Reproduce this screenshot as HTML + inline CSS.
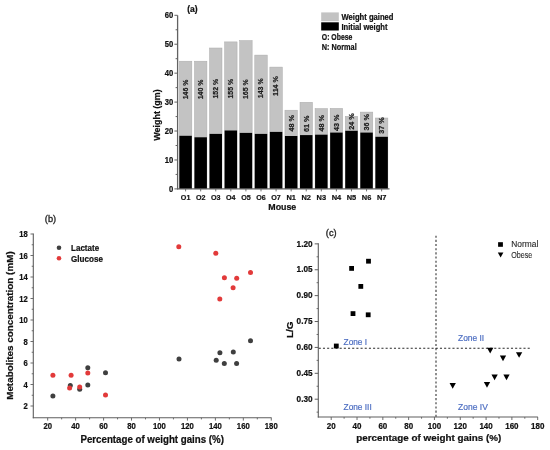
<!DOCTYPE html>
<html><head><meta charset="utf-8">
<style>
html,body{margin:0;padding:0;background:#fff;width:550px;height:450px;overflow:hidden;}
svg{display:block;font-family:"Liberation Sans", sans-serif;filter:blur(0.25px);}
</style></head><body>
<svg width="550" height="450" viewBox="0 0 550 450">
<rect width="550" height="450" fill="#fff"/>
<rect x="179.38" y="61.2" width="12.45" height="127.70" fill="#c3c3c3" stroke="#aaaaaa" stroke-width="0.5"/>
<rect x="179.38" y="135.8" width="12.45" height="53.10" fill="#000"/>
<text x="188.0" y="89.4" font-size="7.5" font-weight="bold" text-anchor="middle" fill="#1a1a1a" transform="rotate(-90 188.0 89.4)" textLength="19.8" lengthAdjust="spacingAndGlyphs" stroke="#1a1a1a" stroke-width="0.22">146 %</text>
<line x1="185.6" y1="188.9" x2="185.6" y2="191.4" stroke="#626262" stroke-width="0.9"/>
<text x="185.6" y="199.6" font-size="8.0" font-weight="bold" text-anchor="middle" fill="#111" textLength="9.5" lengthAdjust="spacingAndGlyphs" stroke="#111" stroke-width="0.22">O1</text>
<rect x="194.46" y="61.2" width="12.45" height="127.70" fill="#c3c3c3" stroke="#aaaaaa" stroke-width="0.5"/>
<rect x="194.46" y="137.3" width="12.45" height="51.60" fill="#000"/>
<text x="203.08" y="89.4" font-size="7.5" font-weight="bold" text-anchor="middle" fill="#1a1a1a" transform="rotate(-90 203.08 89.4)" textLength="19.8" lengthAdjust="spacingAndGlyphs" stroke="#1a1a1a" stroke-width="0.22">140 %</text>
<line x1="200.68" y1="188.9" x2="200.68" y2="191.4" stroke="#626262" stroke-width="0.9"/>
<text x="200.68" y="199.6" font-size="8.0" font-weight="bold" text-anchor="middle" fill="#111" textLength="9.5" lengthAdjust="spacingAndGlyphs" stroke="#111" stroke-width="0.22">O2</text>
<rect x="209.53" y="48.0" width="12.45" height="140.90" fill="#c3c3c3" stroke="#aaaaaa" stroke-width="0.5"/>
<rect x="209.53" y="133.9" width="12.45" height="55.00" fill="#000"/>
<text x="218.16" y="88.7" font-size="7.5" font-weight="bold" text-anchor="middle" fill="#1a1a1a" transform="rotate(-90 218.16 88.7)" textLength="19.8" lengthAdjust="spacingAndGlyphs" stroke="#1a1a1a" stroke-width="0.22">152 %</text>
<line x1="215.76" y1="188.9" x2="215.76" y2="191.4" stroke="#626262" stroke-width="0.9"/>
<text x="215.76" y="199.6" font-size="8.0" font-weight="bold" text-anchor="middle" fill="#111" textLength="9.5" lengthAdjust="spacingAndGlyphs" stroke="#111" stroke-width="0.22">O3</text>
<rect x="224.62" y="41.9" width="12.45" height="147.00" fill="#c3c3c3" stroke="#aaaaaa" stroke-width="0.5"/>
<rect x="224.62" y="130.5" width="12.45" height="58.40" fill="#000"/>
<text x="233.24" y="88.7" font-size="7.5" font-weight="bold" text-anchor="middle" fill="#1a1a1a" transform="rotate(-90 233.24 88.7)" textLength="19.8" lengthAdjust="spacingAndGlyphs" stroke="#1a1a1a" stroke-width="0.22">155 %</text>
<line x1="230.84" y1="188.9" x2="230.84" y2="191.4" stroke="#626262" stroke-width="0.9"/>
<text x="230.84" y="199.6" font-size="8.0" font-weight="bold" text-anchor="middle" fill="#111" textLength="9.5" lengthAdjust="spacingAndGlyphs" stroke="#111" stroke-width="0.22">O4</text>
<rect x="239.69" y="40.6" width="12.45" height="148.30" fill="#c3c3c3" stroke="#aaaaaa" stroke-width="0.5"/>
<rect x="239.69" y="132.9" width="12.45" height="56.00" fill="#000"/>
<text x="248.32" y="89.2" font-size="7.5" font-weight="bold" text-anchor="middle" fill="#1a1a1a" transform="rotate(-90 248.32 89.2)" textLength="19.8" lengthAdjust="spacingAndGlyphs" stroke="#1a1a1a" stroke-width="0.22">165 %</text>
<line x1="245.92" y1="188.9" x2="245.92" y2="191.4" stroke="#626262" stroke-width="0.9"/>
<text x="245.92" y="199.6" font-size="8.0" font-weight="bold" text-anchor="middle" fill="#111" textLength="9.5" lengthAdjust="spacingAndGlyphs" stroke="#111" stroke-width="0.22">O5</text>
<rect x="254.78" y="55.1" width="12.45" height="133.80" fill="#c3c3c3" stroke="#aaaaaa" stroke-width="0.5"/>
<rect x="254.78" y="133.9" width="12.45" height="55.00" fill="#000"/>
<text x="263.4" y="88.3" font-size="7.5" font-weight="bold" text-anchor="middle" fill="#1a1a1a" transform="rotate(-90 263.4 88.3)" textLength="19.8" lengthAdjust="spacingAndGlyphs" stroke="#1a1a1a" stroke-width="0.22">143 %</text>
<line x1="261.0" y1="188.9" x2="261.0" y2="191.4" stroke="#626262" stroke-width="0.9"/>
<text x="261.0" y="199.6" font-size="8.0" font-weight="bold" text-anchor="middle" fill="#111" textLength="9.5" lengthAdjust="spacingAndGlyphs" stroke="#111" stroke-width="0.22">O6</text>
<rect x="269.85" y="67.1" width="12.45" height="121.80" fill="#c3c3c3" stroke="#aaaaaa" stroke-width="0.5"/>
<rect x="269.85" y="131.9" width="12.45" height="57.00" fill="#000"/>
<text x="278.48" y="86.0" font-size="7.5" font-weight="bold" text-anchor="middle" fill="#1a1a1a" transform="rotate(-90 278.48 86.0)" textLength="19.8" lengthAdjust="spacingAndGlyphs" stroke="#1a1a1a" stroke-width="0.22">114 %</text>
<line x1="276.08" y1="188.9" x2="276.08" y2="191.4" stroke="#626262" stroke-width="0.9"/>
<text x="276.08" y="199.6" font-size="8.0" font-weight="bold" text-anchor="middle" fill="#111" textLength="9.5" lengthAdjust="spacingAndGlyphs" stroke="#111" stroke-width="0.22">O7</text>
<rect x="284.93" y="110.2" width="12.45" height="78.70" fill="#c3c3c3" stroke="#aaaaaa" stroke-width="0.5"/>
<rect x="284.93" y="136.0" width="12.45" height="52.90" fill="#000"/>
<text x="293.56" y="123.2" font-size="7.5" font-weight="bold" text-anchor="middle" fill="#1a1a1a" transform="rotate(-90 293.56 123.2)" textLength="16.4" lengthAdjust="spacingAndGlyphs" stroke="#1a1a1a" stroke-width="0.22">48 %</text>
<line x1="291.16" y1="188.9" x2="291.16" y2="191.4" stroke="#626262" stroke-width="0.9"/>
<text x="291.16" y="199.6" font-size="8.0" font-weight="bold" text-anchor="middle" fill="#111" textLength="9.5" lengthAdjust="spacingAndGlyphs" stroke="#111" stroke-width="0.22">N1</text>
<rect x="300.01" y="102.3" width="12.45" height="86.60" fill="#c3c3c3" stroke="#aaaaaa" stroke-width="0.5"/>
<rect x="300.01" y="135.1" width="12.45" height="53.80" fill="#000"/>
<text x="308.64" y="123.8" font-size="7.5" font-weight="bold" text-anchor="middle" fill="#1a1a1a" transform="rotate(-90 308.64 123.8)" textLength="16.4" lengthAdjust="spacingAndGlyphs" stroke="#1a1a1a" stroke-width="0.22">61 %</text>
<line x1="306.24" y1="188.9" x2="306.24" y2="191.4" stroke="#626262" stroke-width="0.9"/>
<text x="306.24" y="199.6" font-size="8.0" font-weight="bold" text-anchor="middle" fill="#111" textLength="9.5" lengthAdjust="spacingAndGlyphs" stroke="#111" stroke-width="0.22">N2</text>
<rect x="315.09" y="108.6" width="12.45" height="80.30" fill="#c3c3c3" stroke="#aaaaaa" stroke-width="0.5"/>
<rect x="315.09" y="134.7" width="12.45" height="54.20" fill="#000"/>
<text x="323.72" y="123.2" font-size="7.5" font-weight="bold" text-anchor="middle" fill="#1a1a1a" transform="rotate(-90 323.72 123.2)" textLength="16.4" lengthAdjust="spacingAndGlyphs" stroke="#1a1a1a" stroke-width="0.22">48 %</text>
<line x1="321.32" y1="188.9" x2="321.32" y2="191.4" stroke="#626262" stroke-width="0.9"/>
<text x="321.32" y="199.6" font-size="8.0" font-weight="bold" text-anchor="middle" fill="#111" textLength="9.5" lengthAdjust="spacingAndGlyphs" stroke="#111" stroke-width="0.22">N3</text>
<rect x="330.17" y="108.4" width="12.45" height="80.50" fill="#c3c3c3" stroke="#aaaaaa" stroke-width="0.5"/>
<rect x="330.17" y="132.6" width="12.45" height="56.30" fill="#000"/>
<text x="338.8" y="122.9" font-size="7.5" font-weight="bold" text-anchor="middle" fill="#1a1a1a" transform="rotate(-90 338.8 122.9)" textLength="16.4" lengthAdjust="spacingAndGlyphs" stroke="#1a1a1a" stroke-width="0.22">43 %</text>
<line x1="336.4" y1="188.9" x2="336.4" y2="191.4" stroke="#626262" stroke-width="0.9"/>
<text x="336.4" y="199.6" font-size="8.0" font-weight="bold" text-anchor="middle" fill="#111" textLength="9.5" lengthAdjust="spacingAndGlyphs" stroke="#111" stroke-width="0.22">N4</text>
<rect x="345.25" y="116.3" width="12.45" height="72.60" fill="#c3c3c3" stroke="#aaaaaa" stroke-width="0.5"/>
<rect x="345.25" y="130.8" width="12.45" height="58.10" fill="#000"/>
<text x="353.88" y="121.5" font-size="7.5" font-weight="bold" text-anchor="middle" fill="#1a1a1a" transform="rotate(-90 353.88 121.5)" textLength="16.4" lengthAdjust="spacingAndGlyphs" stroke="#1a1a1a" stroke-width="0.22">24 %</text>
<line x1="351.48" y1="188.9" x2="351.48" y2="191.4" stroke="#626262" stroke-width="0.9"/>
<text x="351.48" y="199.6" font-size="8.0" font-weight="bold" text-anchor="middle" fill="#111" textLength="9.5" lengthAdjust="spacingAndGlyphs" stroke="#111" stroke-width="0.22">N5</text>
<rect x="360.33" y="112.1" width="12.45" height="76.80" fill="#c3c3c3" stroke="#aaaaaa" stroke-width="0.5"/>
<rect x="360.33" y="132.6" width="12.45" height="56.30" fill="#000"/>
<text x="368.96" y="122.4" font-size="7.5" font-weight="bold" text-anchor="middle" fill="#1a1a1a" transform="rotate(-90 368.96 122.4)" textLength="16.4" lengthAdjust="spacingAndGlyphs" stroke="#1a1a1a" stroke-width="0.22">36 %</text>
<line x1="366.56" y1="188.9" x2="366.56" y2="191.4" stroke="#626262" stroke-width="0.9"/>
<text x="366.56" y="199.6" font-size="8.0" font-weight="bold" text-anchor="middle" fill="#111" textLength="9.5" lengthAdjust="spacingAndGlyphs" stroke="#111" stroke-width="0.22">N6</text>
<rect x="375.41" y="118.0" width="12.45" height="70.90" fill="#c3c3c3" stroke="#aaaaaa" stroke-width="0.5"/>
<rect x="375.41" y="136.8" width="12.45" height="52.10" fill="#000"/>
<text x="384.04" y="125.5" font-size="7.5" font-weight="bold" text-anchor="middle" fill="#1a1a1a" transform="rotate(-90 384.04 125.5)" textLength="16.4" lengthAdjust="spacingAndGlyphs" stroke="#1a1a1a" stroke-width="0.22">37 %</text>
<line x1="381.64" y1="188.9" x2="381.64" y2="191.4" stroke="#626262" stroke-width="0.9"/>
<text x="381.64" y="199.6" font-size="8.0" font-weight="bold" text-anchor="middle" fill="#111" textLength="9.5" lengthAdjust="spacingAndGlyphs" stroke="#111" stroke-width="0.22">N7</text>
<line x1="177.6" y1="15.3" x2="177.6" y2="189.4" stroke="#626262" stroke-width="1.3"/>
<line x1="177.0" y1="188.9" x2="389.5" y2="188.9" stroke="#626262" stroke-width="1.3"/>
<line x1="174.4" y1="188.9" x2="177.6" y2="188.9" stroke="#626262" stroke-width="1"/>
<text x="173.3" y="191.5" font-size="8.2" font-weight="bold" text-anchor="end" fill="#111" textLength="4.25" lengthAdjust="spacingAndGlyphs" stroke="#111" stroke-width="0.22">0</text>
<line x1="174.4" y1="159.97" x2="177.6" y2="159.97" stroke="#626262" stroke-width="1"/>
<text x="173.3" y="162.57" font-size="8.2" font-weight="bold" text-anchor="end" fill="#111" textLength="8.5" lengthAdjust="spacingAndGlyphs" stroke="#111" stroke-width="0.22">10</text>
<line x1="174.4" y1="131.03" x2="177.6" y2="131.03" stroke="#626262" stroke-width="1"/>
<text x="173.3" y="133.63" font-size="8.2" font-weight="bold" text-anchor="end" fill="#111" textLength="8.5" lengthAdjust="spacingAndGlyphs" stroke="#111" stroke-width="0.22">20</text>
<line x1="174.4" y1="102.1" x2="177.6" y2="102.1" stroke="#626262" stroke-width="1"/>
<text x="173.3" y="104.7" font-size="8.2" font-weight="bold" text-anchor="end" fill="#111" textLength="8.5" lengthAdjust="spacingAndGlyphs" stroke="#111" stroke-width="0.22">30</text>
<line x1="174.4" y1="73.17" x2="177.6" y2="73.17" stroke="#626262" stroke-width="1"/>
<text x="173.3" y="75.77" font-size="8.2" font-weight="bold" text-anchor="end" fill="#111" textLength="8.5" lengthAdjust="spacingAndGlyphs" stroke="#111" stroke-width="0.22">40</text>
<line x1="174.4" y1="44.23" x2="177.6" y2="44.23" stroke="#626262" stroke-width="1"/>
<text x="173.3" y="46.83" font-size="8.2" font-weight="bold" text-anchor="end" fill="#111" textLength="8.5" lengthAdjust="spacingAndGlyphs" stroke="#111" stroke-width="0.22">50</text>
<line x1="174.4" y1="15.3" x2="177.6" y2="15.3" stroke="#626262" stroke-width="1"/>
<text x="173.3" y="17.9" font-size="8.2" font-weight="bold" text-anchor="end" fill="#111" textLength="8.5" lengthAdjust="spacingAndGlyphs" stroke="#111" stroke-width="0.22">60</text>
<line x1="175.6" y1="174.43" x2="177.6" y2="174.43" stroke="#626262" stroke-width="1"/>
<line x1="175.6" y1="145.5" x2="177.6" y2="145.5" stroke="#626262" stroke-width="1"/>
<line x1="175.6" y1="116.57" x2="177.6" y2="116.57" stroke="#626262" stroke-width="1"/>
<line x1="175.6" y1="87.63" x2="177.6" y2="87.63" stroke="#626262" stroke-width="1"/>
<line x1="175.6" y1="58.7" x2="177.6" y2="58.7" stroke="#626262" stroke-width="1"/>
<line x1="175.6" y1="29.77" x2="177.6" y2="29.77" stroke="#626262" stroke-width="1"/>
<text x="160.3" y="115.0" font-size="9.2" font-weight="bold" text-anchor="middle" fill="#111" transform="rotate(-90 160.3 115.0)" textLength="51.3" lengthAdjust="spacingAndGlyphs" stroke="#111" stroke-width="0.22">Weight (gm)</text>
<text x="282.3" y="209.6" font-size="9" font-weight="bold" text-anchor="middle" fill="#111" textLength="28" lengthAdjust="spacingAndGlyphs" stroke="#111" stroke-width="0.22">Mouse</text>
<text x="192.4" y="12.0" font-size="8.5" font-weight="bold" text-anchor="middle" fill="#111" stroke="#111" stroke-width="0.22">(a)</text>
<rect x="321.2" y="12.4" width="17.6" height="8.8" fill="#c3c3c3"/>
<rect x="321.2" y="22.3" width="17.6" height="8.2" fill="#000"/>
<text x="341.5" y="19.8" font-size="8.6" font-weight="bold" text-anchor="start" fill="#111" textLength="52" lengthAdjust="spacingAndGlyphs" stroke="#111" stroke-width="0.22">Weight gained</text>
<text x="341.5" y="29.6" font-size="8.6" font-weight="bold" text-anchor="start" fill="#111" textLength="46" lengthAdjust="spacingAndGlyphs" stroke="#111" stroke-width="0.22">Initial weight</text>
<text x="321.8" y="39.9" font-size="8.6" font-weight="bold" text-anchor="start" fill="#111" textLength="30.6" lengthAdjust="spacingAndGlyphs" stroke="#111" stroke-width="0.22">O: Obese</text>
<text x="321.8" y="49.5" font-size="8.6" font-weight="bold" text-anchor="start" fill="#111" textLength="34.9" lengthAdjust="spacingAndGlyphs" stroke="#111" stroke-width="0.22">N: Normal</text>
<line x1="33.3" y1="233.5" x2="33.3" y2="418.3" stroke="#5e5e5e" stroke-width="1.1"/>
<line x1="32.8" y1="417.8" x2="271.6" y2="417.8" stroke="#5e5e5e" stroke-width="1.1"/>
<line x1="30.499999999999996" y1="406.0" x2="33.3" y2="406.0" stroke="#5e5e5e" stroke-width="0.9"/>
<text x="27.8" y="409.0" font-size="8.6" font-weight="bold" text-anchor="end" fill="#111" textLength="4.25" lengthAdjust="spacingAndGlyphs" stroke="#111" stroke-width="0.22">2</text>
<line x1="30.499999999999996" y1="384.5" x2="33.3" y2="384.5" stroke="#5e5e5e" stroke-width="0.9"/>
<text x="27.8" y="387.5" font-size="8.6" font-weight="bold" text-anchor="end" fill="#111" textLength="4.25" lengthAdjust="spacingAndGlyphs" stroke="#111" stroke-width="0.22">4</text>
<line x1="30.499999999999996" y1="363.0" x2="33.3" y2="363.0" stroke="#5e5e5e" stroke-width="0.9"/>
<text x="27.8" y="366.0" font-size="8.6" font-weight="bold" text-anchor="end" fill="#111" textLength="4.25" lengthAdjust="spacingAndGlyphs" stroke="#111" stroke-width="0.22">6</text>
<line x1="30.499999999999996" y1="341.5" x2="33.3" y2="341.5" stroke="#5e5e5e" stroke-width="0.9"/>
<text x="27.8" y="344.5" font-size="8.6" font-weight="bold" text-anchor="end" fill="#111" textLength="4.25" lengthAdjust="spacingAndGlyphs" stroke="#111" stroke-width="0.22">8</text>
<line x1="30.499999999999996" y1="320.0" x2="33.3" y2="320.0" stroke="#5e5e5e" stroke-width="0.9"/>
<text x="27.8" y="323.0" font-size="8.6" font-weight="bold" text-anchor="end" fill="#111" textLength="8.5" lengthAdjust="spacingAndGlyphs" stroke="#111" stroke-width="0.22">10</text>
<line x1="30.499999999999996" y1="298.5" x2="33.3" y2="298.5" stroke="#5e5e5e" stroke-width="0.9"/>
<text x="27.8" y="301.5" font-size="8.6" font-weight="bold" text-anchor="end" fill="#111" textLength="8.5" lengthAdjust="spacingAndGlyphs" stroke="#111" stroke-width="0.22">12</text>
<line x1="30.499999999999996" y1="277.0" x2="33.3" y2="277.0" stroke="#5e5e5e" stroke-width="0.9"/>
<text x="27.8" y="280.0" font-size="8.6" font-weight="bold" text-anchor="end" fill="#111" textLength="8.5" lengthAdjust="spacingAndGlyphs" stroke="#111" stroke-width="0.22">14</text>
<line x1="30.499999999999996" y1="255.5" x2="33.3" y2="255.5" stroke="#5e5e5e" stroke-width="0.9"/>
<text x="27.8" y="258.5" font-size="8.6" font-weight="bold" text-anchor="end" fill="#111" textLength="8.5" lengthAdjust="spacingAndGlyphs" stroke="#111" stroke-width="0.22">16</text>
<line x1="30.499999999999996" y1="234.0" x2="33.3" y2="234.0" stroke="#5e5e5e" stroke-width="0.9"/>
<text x="27.8" y="237.0" font-size="8.6" font-weight="bold" text-anchor="end" fill="#111" textLength="8.5" lengthAdjust="spacingAndGlyphs" stroke="#111" stroke-width="0.22">18</text>
<line x1="31.699999999999996" y1="395.25" x2="33.3" y2="395.25" stroke="#5e5e5e" stroke-width="0.9"/>
<line x1="31.699999999999996" y1="373.75" x2="33.3" y2="373.75" stroke="#5e5e5e" stroke-width="0.9"/>
<line x1="31.699999999999996" y1="352.25" x2="33.3" y2="352.25" stroke="#5e5e5e" stroke-width="0.9"/>
<line x1="31.699999999999996" y1="330.75" x2="33.3" y2="330.75" stroke="#5e5e5e" stroke-width="0.9"/>
<line x1="31.699999999999996" y1="309.25" x2="33.3" y2="309.25" stroke="#5e5e5e" stroke-width="0.9"/>
<line x1="31.699999999999996" y1="287.75" x2="33.3" y2="287.75" stroke="#5e5e5e" stroke-width="0.9"/>
<line x1="31.699999999999996" y1="266.25" x2="33.3" y2="266.25" stroke="#5e5e5e" stroke-width="0.9"/>
<line x1="31.699999999999996" y1="244.75" x2="33.3" y2="244.75" stroke="#5e5e5e" stroke-width="0.9"/>
<line x1="47.68" y1="417.8" x2="47.68" y2="420.6" stroke="#5e5e5e" stroke-width="0.9"/>
<text x="47.68" y="429.1" font-size="8.6" font-weight="bold" text-anchor="middle" fill="#111" textLength="8.6" lengthAdjust="spacingAndGlyphs" stroke="#111" stroke-width="0.22">20</text>
<line x1="75.62" y1="417.8" x2="75.62" y2="420.6" stroke="#5e5e5e" stroke-width="0.9"/>
<text x="75.62" y="429.1" font-size="8.6" font-weight="bold" text-anchor="middle" fill="#111" textLength="8.6" lengthAdjust="spacingAndGlyphs" stroke="#111" stroke-width="0.22">40</text>
<line x1="103.58" y1="417.8" x2="103.58" y2="420.6" stroke="#5e5e5e" stroke-width="0.9"/>
<text x="103.58" y="429.1" font-size="8.6" font-weight="bold" text-anchor="middle" fill="#111" textLength="8.6" lengthAdjust="spacingAndGlyphs" stroke="#111" stroke-width="0.22">60</text>
<line x1="131.53" y1="417.8" x2="131.53" y2="420.6" stroke="#5e5e5e" stroke-width="0.9"/>
<text x="131.53" y="429.1" font-size="8.6" font-weight="bold" text-anchor="middle" fill="#111" textLength="8.6" lengthAdjust="spacingAndGlyphs" stroke="#111" stroke-width="0.22">80</text>
<line x1="159.47" y1="417.8" x2="159.47" y2="420.6" stroke="#5e5e5e" stroke-width="0.9"/>
<text x="159.47" y="429.1" font-size="8.6" font-weight="bold" text-anchor="middle" fill="#111" textLength="12.9" lengthAdjust="spacingAndGlyphs" stroke="#111" stroke-width="0.22">100</text>
<line x1="187.43" y1="417.8" x2="187.43" y2="420.6" stroke="#5e5e5e" stroke-width="0.9"/>
<text x="187.43" y="429.1" font-size="8.6" font-weight="bold" text-anchor="middle" fill="#111" textLength="12.9" lengthAdjust="spacingAndGlyphs" stroke="#111" stroke-width="0.22">120</text>
<line x1="215.38" y1="417.8" x2="215.38" y2="420.6" stroke="#5e5e5e" stroke-width="0.9"/>
<text x="215.38" y="429.1" font-size="8.6" font-weight="bold" text-anchor="middle" fill="#111" textLength="12.9" lengthAdjust="spacingAndGlyphs" stroke="#111" stroke-width="0.22">140</text>
<line x1="243.32" y1="417.8" x2="243.32" y2="420.6" stroke="#5e5e5e" stroke-width="0.9"/>
<text x="243.32" y="429.1" font-size="8.6" font-weight="bold" text-anchor="middle" fill="#111" textLength="12.9" lengthAdjust="spacingAndGlyphs" stroke="#111" stroke-width="0.22">160</text>
<line x1="271.27" y1="417.8" x2="271.27" y2="420.6" stroke="#5e5e5e" stroke-width="0.9"/>
<text x="271.27" y="429.1" font-size="8.6" font-weight="bold" text-anchor="middle" fill="#111" textLength="12.9" lengthAdjust="spacingAndGlyphs" stroke="#111" stroke-width="0.22">180</text>
<line x1="61.65" y1="417.8" x2="61.65" y2="419.40000000000003" stroke="#5e5e5e" stroke-width="0.9"/>
<line x1="89.6" y1="417.8" x2="89.6" y2="419.40000000000003" stroke="#5e5e5e" stroke-width="0.9"/>
<line x1="117.55" y1="417.8" x2="117.55" y2="419.40000000000003" stroke="#5e5e5e" stroke-width="0.9"/>
<line x1="145.5" y1="417.8" x2="145.5" y2="419.40000000000003" stroke="#5e5e5e" stroke-width="0.9"/>
<line x1="173.45" y1="417.8" x2="173.45" y2="419.40000000000003" stroke="#5e5e5e" stroke-width="0.9"/>
<line x1="201.4" y1="417.8" x2="201.4" y2="419.40000000000003" stroke="#5e5e5e" stroke-width="0.9"/>
<line x1="229.35" y1="417.8" x2="229.35" y2="419.40000000000003" stroke="#5e5e5e" stroke-width="0.9"/>
<line x1="257.3" y1="417.8" x2="257.3" y2="419.40000000000003" stroke="#5e5e5e" stroke-width="0.9"/>
<text x="12.8" y="325.6" font-size="9.4" font-weight="bold" text-anchor="middle" fill="#111" transform="rotate(-90 12.8 325.6)" textLength="148.5" lengthAdjust="spacingAndGlyphs" stroke="#111" stroke-width="0.22">Metabolites concentration (mM)</text>
<text x="152.2" y="442.9" font-size="10" font-weight="bold" text-anchor="middle" fill="#111" textLength="143.5" lengthAdjust="spacingAndGlyphs" stroke="#111" stroke-width="0.22">Percentage of weight gains (%)</text>
<text x="50.5" y="221.9" font-size="9" font-weight="normal" text-anchor="middle" fill="#222" textLength="11.3" lengthAdjust="spacingAndGlyphs" stroke="#222" stroke-width="0.3">(b)</text>
<circle cx="52.9" cy="396.1" r="2.5" fill="#3f3f3f"/>
<circle cx="70.3" cy="385.6" r="2.5" fill="#3f3f3f"/>
<circle cx="79.7" cy="389.3" r="2.5" fill="#3f3f3f"/>
<circle cx="87.8" cy="384.9" r="2.5" fill="#3f3f3f"/>
<circle cx="87.8" cy="367.7" r="2.5" fill="#3f3f3f"/>
<circle cx="105.5" cy="372.8" r="2.5" fill="#3f3f3f"/>
<circle cx="179" cy="359" r="2.5" fill="#3f3f3f"/>
<circle cx="216.2" cy="360.3" r="2.5" fill="#3f3f3f"/>
<circle cx="219.9" cy="352.7" r="2.5" fill="#3f3f3f"/>
<circle cx="224.3" cy="363.4" r="2.5" fill="#3f3f3f"/>
<circle cx="233.3" cy="352.1" r="2.5" fill="#3f3f3f"/>
<circle cx="236.6" cy="363.5" r="2.5" fill="#3f3f3f"/>
<circle cx="250.5" cy="340.8" r="2.5" fill="#3f3f3f"/>
<circle cx="52.9" cy="375.2" r="2.5" fill="#e23a3a"/>
<circle cx="71.1" cy="375.2" r="2.5" fill="#e23a3a"/>
<circle cx="87.8" cy="373" r="2.5" fill="#e23a3a"/>
<circle cx="69.6" cy="388.1" r="2.5" fill="#e23a3a"/>
<circle cx="79.7" cy="387.1" r="2.5" fill="#e23a3a"/>
<circle cx="105.5" cy="395.1" r="2.5" fill="#e23a3a"/>
<circle cx="178.8" cy="246.7" r="2.5" fill="#e23a3a"/>
<circle cx="215.8" cy="253.2" r="2.5" fill="#e23a3a"/>
<circle cx="224.4" cy="277.8" r="2.5" fill="#e23a3a"/>
<circle cx="219.8" cy="298.9" r="2.5" fill="#e23a3a"/>
<circle cx="236.7" cy="278.2" r="2.5" fill="#e23a3a"/>
<circle cx="233.1" cy="287.7" r="2.5" fill="#e23a3a"/>
<circle cx="250.5" cy="272.4" r="2.5" fill="#e23a3a"/>
<circle cx="59" cy="247.7" r="2.3" fill="#3f3f3f"/>
<circle cx="59" cy="258.3" r="2.3" fill="#e23a3a"/>
<text x="71.1" y="250.9" font-size="8.6" font-weight="bold" text-anchor="start" fill="#111" textLength="28" lengthAdjust="spacingAndGlyphs" stroke="#111" stroke-width="0.22">Lactate</text>
<text x="71.1" y="261.5" font-size="8.6" font-weight="bold" text-anchor="start" fill="#111" textLength="31.8" lengthAdjust="spacingAndGlyphs" stroke="#111" stroke-width="0.22">Glucose</text>
<line x1="318.3" y1="243.36" x2="318.3" y2="417.5" stroke="#5e5e5e" stroke-width="1.1"/>
<line x1="317.8" y1="417.0" x2="537.9" y2="417.0" stroke="#5e5e5e" stroke-width="1.1"/>
<line x1="314.7" y1="399.2" x2="318.3" y2="399.2" stroke="#5e5e5e" stroke-width="1.0"/>
<text x="312.6" y="401.9" font-size="8.6" font-weight="bold" text-anchor="end" fill="#111" textLength="16.0" lengthAdjust="spacingAndGlyphs" stroke="#111" stroke-width="0.22">0.30</text>
<line x1="314.7" y1="373.31" x2="318.3" y2="373.31" stroke="#5e5e5e" stroke-width="1.0"/>
<text x="312.6" y="376.01" font-size="8.6" font-weight="bold" text-anchor="end" fill="#111" textLength="16.0" lengthAdjust="spacingAndGlyphs" stroke="#111" stroke-width="0.22">0.45</text>
<line x1="314.7" y1="347.42" x2="318.3" y2="347.42" stroke="#5e5e5e" stroke-width="1.0"/>
<text x="312.6" y="350.12" font-size="8.6" font-weight="bold" text-anchor="end" fill="#111" textLength="16.0" lengthAdjust="spacingAndGlyphs" stroke="#111" stroke-width="0.22">0.60</text>
<line x1="314.7" y1="321.53" x2="318.3" y2="321.53" stroke="#5e5e5e" stroke-width="1.0"/>
<text x="312.6" y="324.23" font-size="8.6" font-weight="bold" text-anchor="end" fill="#111" textLength="16.0" lengthAdjust="spacingAndGlyphs" stroke="#111" stroke-width="0.22">0.75</text>
<line x1="314.7" y1="295.64" x2="318.3" y2="295.64" stroke="#5e5e5e" stroke-width="1.0"/>
<text x="312.6" y="298.34" font-size="8.6" font-weight="bold" text-anchor="end" fill="#111" textLength="16.0" lengthAdjust="spacingAndGlyphs" stroke="#111" stroke-width="0.22">0.90</text>
<line x1="314.7" y1="269.75" x2="318.3" y2="269.75" stroke="#5e5e5e" stroke-width="1.0"/>
<text x="312.6" y="272.45" font-size="8.6" font-weight="bold" text-anchor="end" fill="#111" textLength="16.0" lengthAdjust="spacingAndGlyphs" stroke="#111" stroke-width="0.22">1.05</text>
<line x1="314.7" y1="243.86" x2="318.3" y2="243.86" stroke="#5e5e5e" stroke-width="1.0"/>
<text x="312.6" y="246.56" font-size="8.6" font-weight="bold" text-anchor="end" fill="#111" textLength="16.0" lengthAdjust="spacingAndGlyphs" stroke="#111" stroke-width="0.22">1.20</text>
<line x1="316.6" y1="412.14" x2="318.3" y2="412.14" stroke="#5e5e5e" stroke-width="0.9"/>
<line x1="316.6" y1="386.25" x2="318.3" y2="386.25" stroke="#5e5e5e" stroke-width="0.9"/>
<line x1="316.6" y1="360.37" x2="318.3" y2="360.37" stroke="#5e5e5e" stroke-width="0.9"/>
<line x1="316.6" y1="334.47" x2="318.3" y2="334.47" stroke="#5e5e5e" stroke-width="0.9"/>
<line x1="316.6" y1="308.59" x2="318.3" y2="308.59" stroke="#5e5e5e" stroke-width="0.9"/>
<line x1="316.6" y1="282.69" x2="318.3" y2="282.69" stroke="#5e5e5e" stroke-width="0.9"/>
<line x1="316.6" y1="256.81" x2="318.3" y2="256.81" stroke="#5e5e5e" stroke-width="0.9"/>
<line x1="331.21" y1="417.0" x2="331.21" y2="420.0" stroke="#5e5e5e" stroke-width="0.9"/>
<text x="331.21" y="428.8" font-size="8.6" font-weight="bold" text-anchor="middle" fill="#111" textLength="8.9" lengthAdjust="spacingAndGlyphs" stroke="#111" stroke-width="0.22">20</text>
<line x1="357.02" y1="417.0" x2="357.02" y2="420.0" stroke="#5e5e5e" stroke-width="0.9"/>
<text x="357.02" y="428.8" font-size="8.6" font-weight="bold" text-anchor="middle" fill="#111" textLength="8.9" lengthAdjust="spacingAndGlyphs" stroke="#111" stroke-width="0.22">40</text>
<line x1="382.83" y1="417.0" x2="382.83" y2="420.0" stroke="#5e5e5e" stroke-width="0.9"/>
<text x="382.83" y="428.8" font-size="8.6" font-weight="bold" text-anchor="middle" fill="#111" textLength="8.9" lengthAdjust="spacingAndGlyphs" stroke="#111" stroke-width="0.22">60</text>
<line x1="408.64" y1="417.0" x2="408.64" y2="420.0" stroke="#5e5e5e" stroke-width="0.9"/>
<text x="408.64" y="428.8" font-size="8.6" font-weight="bold" text-anchor="middle" fill="#111" textLength="8.9" lengthAdjust="spacingAndGlyphs" stroke="#111" stroke-width="0.22">80</text>
<line x1="434.45" y1="417.0" x2="434.45" y2="420.0" stroke="#5e5e5e" stroke-width="0.9"/>
<text x="434.45" y="428.8" font-size="8.6" font-weight="bold" text-anchor="middle" fill="#111" textLength="13.35" lengthAdjust="spacingAndGlyphs" stroke="#111" stroke-width="0.22">100</text>
<line x1="460.27" y1="417.0" x2="460.27" y2="420.0" stroke="#5e5e5e" stroke-width="0.9"/>
<text x="460.27" y="428.8" font-size="8.6" font-weight="bold" text-anchor="middle" fill="#111" textLength="13.35" lengthAdjust="spacingAndGlyphs" stroke="#111" stroke-width="0.22">120</text>
<line x1="486.08" y1="417.0" x2="486.08" y2="420.0" stroke="#5e5e5e" stroke-width="0.9"/>
<text x="486.08" y="428.8" font-size="8.6" font-weight="bold" text-anchor="middle" fill="#111" textLength="13.35" lengthAdjust="spacingAndGlyphs" stroke="#111" stroke-width="0.22">140</text>
<line x1="511.89" y1="417.0" x2="511.89" y2="420.0" stroke="#5e5e5e" stroke-width="0.9"/>
<text x="511.89" y="428.8" font-size="8.6" font-weight="bold" text-anchor="middle" fill="#111" textLength="13.35" lengthAdjust="spacingAndGlyphs" stroke="#111" stroke-width="0.22">160</text>
<line x1="537.7" y1="417.0" x2="537.7" y2="420.0" stroke="#5e5e5e" stroke-width="0.9"/>
<text x="537.7" y="428.8" font-size="8.6" font-weight="bold" text-anchor="middle" fill="#111" textLength="13.35" lengthAdjust="spacingAndGlyphs" stroke="#111" stroke-width="0.22">180</text>
<line x1="344.11" y1="417.0" x2="344.11" y2="418.7" stroke="#5e5e5e" stroke-width="0.9"/>
<line x1="369.92" y1="417.0" x2="369.92" y2="418.7" stroke="#5e5e5e" stroke-width="0.9"/>
<line x1="395.74" y1="417.0" x2="395.74" y2="418.7" stroke="#5e5e5e" stroke-width="0.9"/>
<line x1="421.55" y1="417.0" x2="421.55" y2="418.7" stroke="#5e5e5e" stroke-width="0.9"/>
<line x1="447.36" y1="417.0" x2="447.36" y2="418.7" stroke="#5e5e5e" stroke-width="0.9"/>
<line x1="473.17" y1="417.0" x2="473.17" y2="418.7" stroke="#5e5e5e" stroke-width="0.9"/>
<line x1="498.98" y1="417.0" x2="498.98" y2="418.7" stroke="#5e5e5e" stroke-width="0.9"/>
<line x1="524.8" y1="417.0" x2="524.8" y2="418.7" stroke="#5e5e5e" stroke-width="0.9"/>
<text x="293.2" y="329.7" font-size="9.2" font-weight="bold" text-anchor="middle" fill="#111" transform="rotate(-90 293.2 329.7)" textLength="16.7" lengthAdjust="spacingAndGlyphs" stroke="#111" stroke-width="0.22">L/G</text>
<text x="428.8" y="440.6" font-size="9.5" font-weight="bold" text-anchor="middle" fill="#111" textLength="145" lengthAdjust="spacingAndGlyphs" stroke="#111" stroke-width="0.22">percentage of weight gains (%)</text>
<text x="331.2" y="236.1" font-size="8.5" font-weight="normal" text-anchor="middle" fill="#222" textLength="10.8" lengthAdjust="spacingAndGlyphs" stroke="#222" stroke-width="0.3">(c)</text>
<line x1="318.75" y1="348.2" x2="530.8" y2="348.2" stroke="#2a2a2a" stroke-width="1.05" stroke-dasharray="2.09 2.088"/>
<line x1="436.0" y1="235.65" x2="436.0" y2="417.0" stroke="#2a2a2a" stroke-width="1.05" stroke-dasharray="2.09 2.075"/>
<text x="343.6" y="344.5" font-size="8.6" font-weight="normal" text-anchor="start" fill="#4d6ec2" textLength="23.4" lengthAdjust="spacingAndGlyphs" stroke="#4d6ec2" stroke-width="0.2">Zone I</text>
<text x="458.1" y="340.9" font-size="8.6" font-weight="normal" text-anchor="start" fill="#4d6ec2" textLength="26.1" lengthAdjust="spacingAndGlyphs" stroke="#4d6ec2" stroke-width="0.2">Zone II</text>
<text x="343.6" y="409.5" font-size="8.6" font-weight="normal" text-anchor="start" fill="#4d6ec2" textLength="28.1" lengthAdjust="spacingAndGlyphs" stroke="#4d6ec2" stroke-width="0.2">Zone III</text>
<text x="458.1" y="409.5" font-size="8.6" font-weight="normal" text-anchor="start" fill="#4d6ec2" textLength="29.7" lengthAdjust="spacingAndGlyphs" stroke="#4d6ec2" stroke-width="0.2">Zone IV</text>
<rect x="366.10" y="258.80" width="4.8" height="4.8" fill="#000"/>
<rect x="349.20" y="266.00" width="4.8" height="4.8" fill="#000"/>
<rect x="358.40" y="284.00" width="4.8" height="4.8" fill="#000"/>
<rect x="350.60" y="311.20" width="4.8" height="4.8" fill="#000"/>
<rect x="365.80" y="312.40" width="4.8" height="4.8" fill="#000"/>
<rect x="333.90" y="343.60" width="4.8" height="4.8" fill="#000"/>
<path d="M487.05,347.74 L493.35,347.74 L490.20,353.44 Z" fill="#000"/>
<path d="M499.85,355.54 L506.15,355.54 L503.00,361.24 Z" fill="#000"/>
<path d="M515.95,352.13 L522.25,352.13 L519.10,357.83 Z" fill="#000"/>
<path d="M491.45,374.44 L497.75,374.44 L494.60,380.13 Z" fill="#000"/>
<path d="M503.35,374.44 L509.65,374.44 L506.50,380.13 Z" fill="#000"/>
<path d="M483.85,381.94 L490.15,381.94 L487.00,387.63 Z" fill="#000"/>
<path d="M449.55,383.04 L455.85,383.04 L452.70,388.74 Z" fill="#000"/>
<rect x="498.1" y="242.2" width="4.8" height="4.6" fill="#000"/>
<path d="M497.80,252.45 L503.40,252.45 L500.60,257.45 Z" fill="#000"/>
<text x="511.3" y="247.3" font-size="8.6" font-weight="normal" text-anchor="start" fill="#2a2a2a" textLength="27.0" lengthAdjust="spacingAndGlyphs" stroke="#2a2a2a" stroke-width="0.12">Normal</text>
<text x="511.3" y="257.5" font-size="8.6" font-weight="normal" text-anchor="start" fill="#2a2a2a" textLength="21.0" lengthAdjust="spacingAndGlyphs" stroke="#2a2a2a" stroke-width="0.12">Obese</text>
</svg>
</body></html>
